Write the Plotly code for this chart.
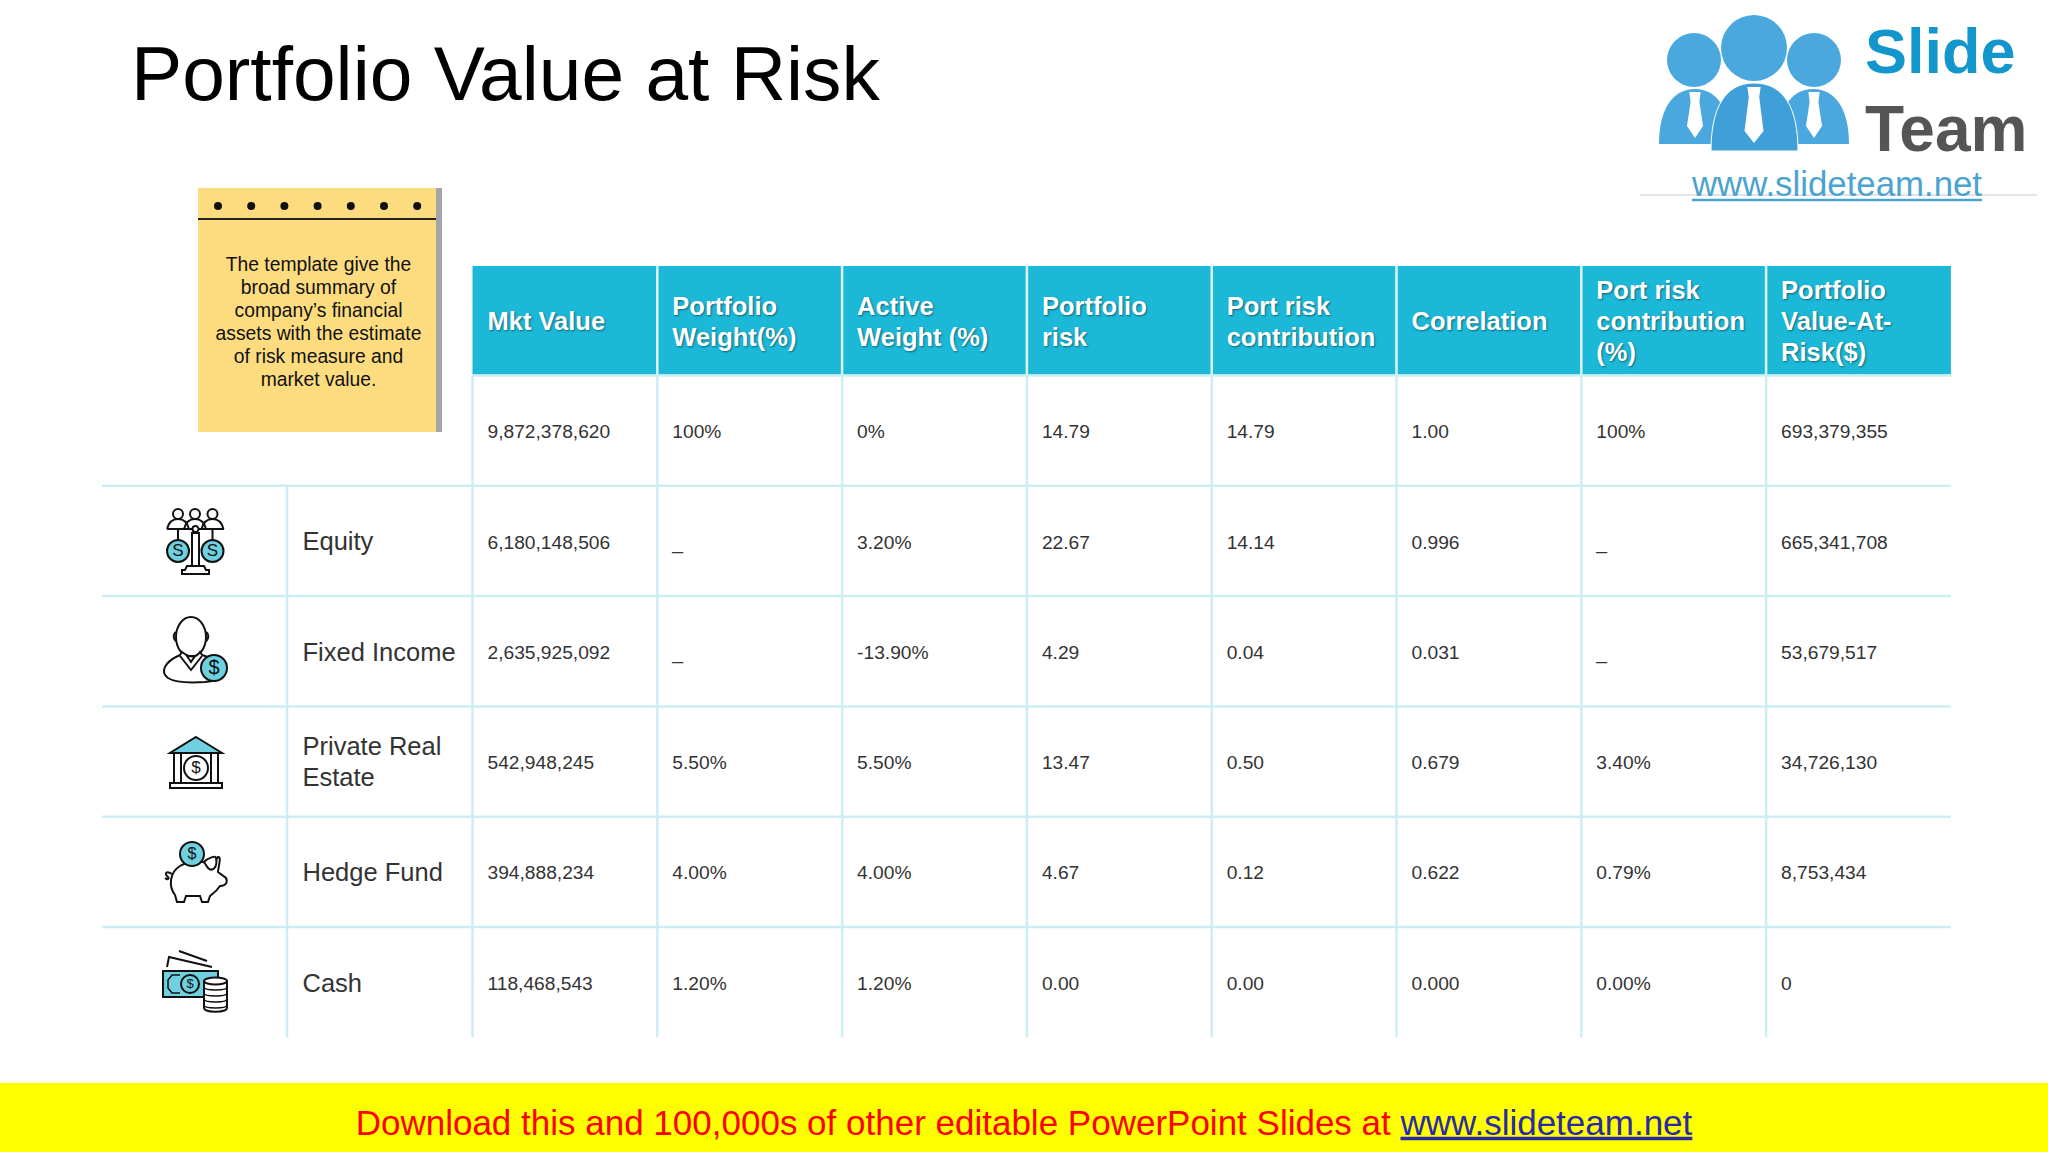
import plotly.graph_objects as go

# table contents
headers = [
    ["Mkt Value"],
    ["Portfolio", "Weight(%)"],
    ["Active", "Weight (%)"],
    ["Portfolio", "risk"],
    ["Port risk", "contribution"],
    ["Correlation"],
    ["Port risk", "contribution", "(%)"],
    ["Portfolio", "Value-At-", "Risk($)"],
]
row_labels = [[], ["Equity"], ["Fixed Income"], ["Private Real", "Estate"], ["Hedge Fund"], ["Cash"]]
mkt_value = ["9,872,378,620", "6,180,148,506", "2,635,925,092", "542,948,245", "394,888,234", "118,468,543"]
port_weight = ["100%", "_", "_", "5.50%", "4.00%", "1.20%"]
active_weight = ["0%", "3.20%", "-13.90%", "5.50%", "4.00%", "1.20%"]
port_risk = ["14.79", "22.67", "4.29", "13.47", "4.67", "0.00"]
risk_contrib = ["14.79", "14.14", "0.04", "0.50", "0.12", "0.00"]
correlation = ["1.00", "0.996", "0.031", "0.679", "0.622", "0.000"]
risk_contrib_pct = ["100%", "_", "_", "3.40%", "0.79%", "0.00%"]
port_var = ["693,379,355", "665,341,708", "53,679,517", "34,726,130", "8,753,434", "0"]
note_lines = ["The template give the", "broad summary of", "company’s financial",
              "assets with the estimate", "of risk measure and", "market value."]

columns = [mkt_value, port_weight, active_weight, port_risk, risk_contrib,
           correlation, risk_contrib_pct, port_var]

FONT = "Liberation Sans"
TEAL = "#1CB8D8"
GRID = "#CDEDF4"
ICON = "#6FD0E0"
INK = "#111111"

# layout in page pixels
X0, COL_W = 472.5, 184.8
ROW0, ROW_H = 375.5, 110.3
HEAD_TOP = 266
TEXT_PAD = 15

fig = go.Figure()
shapes = []


def rect(x0, y0, x1, y1, fill, line=None, width=0):
    shapes.append(dict(type="rect", x0=x0, y0=y0, x1=x1, y1=y1, fillcolor=fill,
                       line=dict(color=line or fill, width=width)))


def seg(x0, y0, x1, y1, color=INK, width=2):
    shapes.append(dict(type="line", x0=x0, y0=y0, x1=x1, y1=y1, line=dict(color=color, width=width)))


def circle(cx, cy, r, fill="rgba(0,0,0,0)", line=INK, width=2):
    shapes.append(dict(type="circle", x0=cx - r, y0=cy - r, x1=cx + r, y1=cy + r, fillcolor=fill,
                       line=dict(color=line, width=width)))


def ellipse(cx, cy, rx, ry, fill="white", line=INK, width=2):
    shapes.append(dict(type="circle", x0=cx - rx, y0=cy - ry, x1=cx + rx, y1=cy + ry, fillcolor=fill,
                       line=dict(color=line, width=width)))


def path(d, fill="rgba(0,0,0,0)", line=INK, width=2):
    shapes.append(dict(type="path", path=d, fillcolor=fill, line=dict(color=line, width=width)))


def text(xs, ys, labels, size, color, pos="middle right", bold=False, shadow=None, font=FONT):
    fig.add_trace(go.Scatter(
        x=xs, y=ys, text=labels, mode="text", textposition=pos, hoverinfo="skip", showlegend=False,
        textfont=dict(family=font, size=size, color=color, weight="bold" if bold else "normal",
                      shadow=shadow or "none"),
    ))


# header band and grid
for k in range(len(columns)):
    rect(X0 + k * COL_W, HEAD_TOP, X0 + (k + 1) * COL_W, ROW0 - 1, TEAL)
for k in range(len(columns)):
    xx = X0 + k * COL_W
    if k > 0:
        seg(xx, HEAD_TOP, xx, ROW0, "#DDF3F8", 2.5)
    seg(xx, ROW0, xx, ROW0 + 6 * ROW_H, GRID, 2.5)
seg(287, ROW0 + ROW_H, 287, ROW0 + 6 * ROW_H, GRID, 2.5)
seg(X0, ROW0, X0 + 8 * COL_W, ROW0, GRID, 2.5)
for r in range(1, 6):
    seg(102, ROW0 + r * ROW_H, X0 + 8 * COL_W, ROW0 + r * ROW_H, GRID, 2.5)

# header text
for k, lines in enumerate(headers):
    mid = (HEAD_TOP + ROW0) / 2 + 3.2
    ys = [mid + (i - (len(lines) - 1) / 2) * 31 for i in range(len(lines))]
    text([X0 + k * COL_W + TEXT_PAD] * len(lines), ys, lines, 25.5, "white", bold=True,
         shadow="1px 1px 2px rgba(0,0,0,0.45)")

# body values
for k, col in enumerate(columns):
    xs = [X0 + k * COL_W + TEXT_PAD] * len(col)
    ys = [ROW0 + (r + 0.5) * ROW_H + 2.8 for r in range(len(col))]
    text(xs, ys, col, 19.2, "#333333")

# row labels
for r, lines in enumerate(row_labels):
    mid = ROW0 + (r + 0.5) * ROW_H + 3
    ys = [mid + (i - (len(lines) - 1) / 2) * 31 for i in range(len(lines))]
    text([302.5] * len(lines), ys, lines, 25.5, "#333333")

# sticky note
rect(198, 188, 436, 432, "#FDDC80")
rect(436, 188, 442, 432, "#A3A5A8")
seg(198, 219, 436, 219, "#222222", 2)
for i in range(7):
    circle(218 + i * 33.2, 206, 4, fill="#111111", line="#111111", width=0)
text([318.5] * len(note_lines), [266.5 + i * 23 for i in range(len(note_lines))], note_lines, 19.3, "#111111",
     pos="middle center")

# title and banner
text([131], [81], ["Portfolio Value at Risk"], 76.7, "#000000")
rect(0, 1083, 2048, 1152, "#FFFF00")
text([1024], [1126], ['Download this and 100,000s of other editable PowerPoint Slides at '
                      '<span style="color:#2A2AA8"><u>www.slideteam.net</u></span>'],
     35, "#FF0000", pos="middle center")

# logo
seg(1640, 195, 2037, 195, "#DDDDDD", 1.5)
LOGO = "#4AA8DE"
circle(1694, 60, 27, fill=LOGO, line=LOGO, width=0)
circle(1814, 60, 27, fill=LOGO, line=LOGO, width=0)
circle(1754, 48, 33, fill=LOGO, line=LOGO, width=0)
path("M1659,144 C1659,110 1672,89 1695,89 C1718,89 1730,110 1730,144 Z", fill=LOGO, line=LOGO, width=0)
path("M1778,144 C1778,110 1790,89 1813,89 C1836,89 1849,110 1849,144 Z", fill=LOGO, line=LOGO, width=0)
path("M1711,151 C1711,108 1725,83 1754,83 C1784,83 1798,108 1798,151 Z", fill="#3F9FD8", line="white", width=1)
for cx, top, bot, w in [(1695, 92, 138, 8), (1814, 92, 138, 8), (1754, 87, 143, 9.5)]:
    path(f"M{cx-w*0.7},{top} L{cx+w*0.7},{top} L{cx+w*0.55},{top+10} L{cx+w},{bot-12} L{cx},{bot} "
         f"L{cx-w},{bot-12} L{cx-w*0.55},{top+10} Z", fill="white", line="white", width=0)
text([1865], [57], ["Slide"], 63, "#1296CC", bold=True)
text([1865], [135], ["Team"], 64, "#555555", bold=True)
text([1837], [187.5], ["www.slideteam.net"], 34.8, "#4BA3D0", pos="middle center")
seg(1692, 200, 1982, 200, "#4BA3D0", 2.5)

# equity icon
seg(167, 529, 224, 529)
for cx in (178, 195, 212.5):
    circle(cx, 514, 5)
    path(f"M{cx-11},529 C{cx-9},521 {cx-5},519 {cx},519 C{cx+5},519 {cx+9},521 {cx+11},529")
seg(178, 529, 178, 540)
seg(212.5, 529, 212.5, 540)
circle(178, 551, 11, fill=ICON)
circle(212.5, 551, 11, fill=ICON)
path("M192,533 L192,566 L199,566 L199,533 Z", fill="white")
circle(195.5, 529, 3, fill="white")
path("M187,566 L204,566 L206,570 L209,570 L209,574 L182,574 L182,570 L185,570 Z", fill="white")
text([178, 212.5], [552, 552], ["S", "S"], 17, INK, pos="middle center")

# fixed income icon
ellipse(191, 637, 15, 20)
path("M176,632 C172,635 174,641 177,641")
path("M206,632 C210,635 208,641 205,641")
path("M180,655 L182,652 C190,658 196,658 200,652 L202,655 L213,659 C228,668 226,680 205,682 "
     "C190,683 176,683 168,678 C160,672 164,662 180,655 Z", fill="white")
path("M180,656 L191,670 L202,656 M187,656 L195,656 L191,662 Z")
circle(214, 668, 13, fill=ICON)
text([214], [669], ["$"], 20, INK, pos="middle center")

# bank icon
path("M196,737 L222,753 L170,753 Z", fill=ICON)
rect(174, 753, 218, 783, "white", INK, 2)
seg(181, 753, 181, 783)
seg(211, 753, 211, 783)
circle(196, 768, 12)
rect(170, 783, 222, 788, "white", INK, 2)
text([196], [769], ["$"], 17, INK, pos="middle center")

# piggy bank icon
path("M180,866 C190,860 204,860 212,866 L218,857 C222,856 218,868 218,872 L226,878 C228,882 226,886 220,886 "
     "C216,892 212,894 210,896 L208,902 L202,902 L200,896 L186,896 L184,902 L177,902 L175,895 "
     "C168,886 170,872 180,866 Z", fill="white")
path("M204,862 C208,858 216,855 216,858 C218,868 212,872 208,868 Z", fill="white")
path("M172,874 C166,870 164,874 168,877 C170,879 167,880 165,878")
circle(192, 854, 12, fill=ICON)
text([192], [855], ["$"], 16, INK, pos="middle center")

# cash icon
path("M167,967 L169,957 L212,967")
path("M179,951 L207,961")
rect(163, 971, 218, 997, ICON, INK, 2)
path("M180,975 L172,975 L168,980 L168,988 L172,993 L180,993", width=1.5)
circle(190, 984, 9, fill=ICON)
text([190], [985], ["$"], 13, INK, pos="middle center")
path("M204,981 L204,1008 C204,1013 227,1013 227,1008 L227,981", fill="white")
for yy in (987, 993, 999, 1005):
    path(f"M204,{yy} C204,{yy+4} 227,{yy+4} 227,{yy}", width=1.5)
ellipse(215.5, 981, 11.5, 3.5)

fig.update_layout(
    width=2048, height=1152,
    margin=dict(l=0, r=0, t=0, b=0),
    paper_bgcolor="white", plot_bgcolor="white",
    showlegend=False,
    shapes=shapes,
    xaxis=dict(range=[0, 2048], visible=False, fixedrange=True),
    yaxis=dict(range=[1152, 0], visible=False, fixedrange=True),
)
for s in fig.layout.shapes:
    s.layer = "below"

# page has a default body margin, drop it so the figure fills the window
fig.write_html("out.html", config=dict(displayModeBar=False),
               post_script="document.body.style.margin='0';")
